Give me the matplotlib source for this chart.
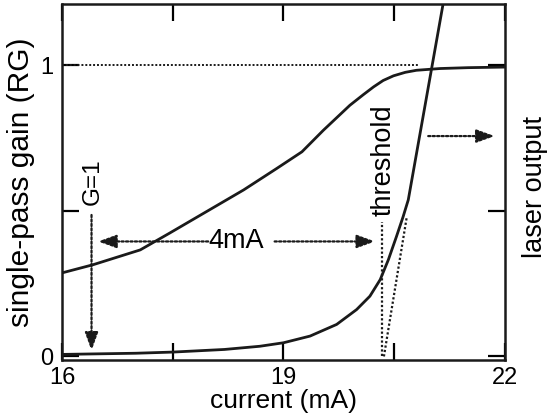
import numpy as np
import matplotlib
matplotlib.use('Agg')
import matplotlib.pyplot as plt

plt.rcParams['font.family'] = ['Liberation Sans', 'DejaVu Sans']

# single-pass gain curve
gain_x = [16.0, 16.42, 17.06, 17.46, 17.96, 18.46, 18.91, 19.25, 19.54, 19.9, 20.08, 20.22, 20.35,
          20.49, 20.65, 20.8, 21.12, 21.5, 22.0]
gain_y = [0.287, 0.315, 0.366, 0.424, 0.498, 0.572, 0.646, 0.703, 0.777, 0.863, 0.899, 0.926, 0.948,
          0.964, 0.976, 0.983, 0.989, 0.992, 0.994]

# laser output curve
out_x = [16.0, 17.0, 17.5, 18.2, 18.68, 19.0, 19.36, 19.72, 19.99, 20.17, 20.31, 20.42, 20.53, 20.62, 20.69, 21.16, 21.2]
out_y = [0.007, 0.011, 0.015, 0.024, 0.035, 0.047, 0.07, 0.11, 0.161, 0.207, 0.264, 0.332, 0.412, 0.48, 0.538, 1.209, 1.266]

x_major = [16, 19, 22]
x_minor = [17.5, 20.5]
y_major = [0, 1]
y_minor = [0.5]

g1_x = 16.40
span_x = [16.49, 20.24]
span_y = 0.395
thr_x = 20.34
tangent_x = [20.36, 20.67]
tangent_y = [0.0, 0.48]
laser_arrow_x = [20.96, 21.86]
laser_arrow_y = 0.757

fig = plt.figure(figsize=(5.5, 4.2), dpi=100)
ax = fig.add_axes([0.1127, 0.143, 0.8055, 0.847])

dk = '#1a1a1a'
dot = (0, (1, 1))
head = dict(arrowstyle='-|>,head_length=1.1,head_width=0.4', color=dk,
            lw=1.6, ls=dot, shrinkA=0, shrinkB=0)

ax.plot(gain_x, gain_y, color=dk, lw=2.0)
ax.plot(out_x, out_y, color=dk, lw=2.0)

# G = 1 line
ax.plot([16, 20.82], [1, 1], color=dk, lw=1.4, ls=dot)

# G=1 arrow down
ax.annotate('', xy=(g1_x, 0.02), xytext=(g1_x, 0.486), arrowprops=head)
ax.text(g1_x + 0.01, 0.52, 'G=1', rotation=90, ha='center', va='bottom', fontsize=17.5)

# 4mA span
ax.annotate('', xy=(span_x[0], span_y), xytext=(17.98, span_y), arrowprops=head)
ax.annotate('', xy=(span_x[1], span_y), xytext=(18.88, span_y), arrowprops=head)
ax.text(18.36, span_y, '4mA', ha='center', va='center', fontsize=19.5)

# threshold
ax.plot([thr_x, thr_x], [0.0, 0.463], color=dk, lw=1.6, ls=dot)
ax.plot(tangent_x, tangent_y, color=dk, lw=1.6, ls=dot)
ax.text(thr_x + 0.01, 0.484, 'threshold', rotation=90, ha='center', va='bottom', fontsize=19.5)

# laser output arrow
ax.annotate('', xy=(laser_arrow_x[1], laser_arrow_y), xytext=(laser_arrow_x[0], laser_arrow_y),
            arrowprops=head)
ax.text(1.068, 0.486, 'laser output', rotation=90, ha='center', va='center',
        fontsize=19.5, transform=ax.transAxes)

ax.set_xlim(16, 22)
ax.set_ylim(-0.012, 1.21)
ax.set_xticks(x_major)
ax.set_xticklabels([str(v) for v in x_major])
ax.set_xticks(x_minor, minor=True)
ax.set_yticks(y_major)
ax.set_yticklabels([str(v) for v in y_major])
ax.set_yticks(y_minor, minor=True)
ax.tick_params(which='both', direction='in', length=12, width=1.6,
               top=True, right=True, labelsize=17, pad=6)
ax.tick_params(axis='x', pad=5)
for s in ax.spines.values():
    s.set_linewidth(1.8)
    s.set_color(dk)

ax.set_xlabel('current (mA)', fontsize=19, labelpad=0)
ax.set_ylabel('single-pass gain (RG)', fontsize=21.5, labelpad=4)

fig.savefig('out.png', dpi=100)
